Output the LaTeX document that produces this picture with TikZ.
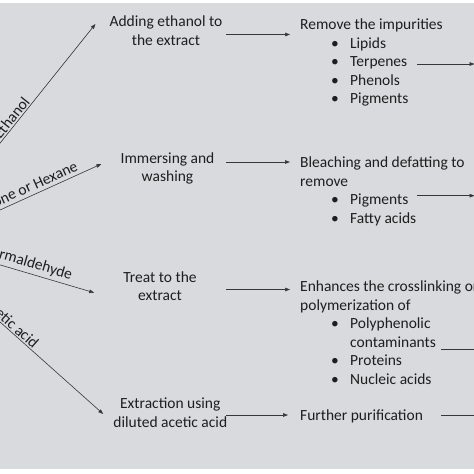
\documentclass[tikz,border=0pt]{standalone}
\usepackage{fontspec}
\setmainfont{Carlito}
\usetikzlibrary{arrows.meta,positioning,calc}

\definecolor{panelgray}{RGB}{216,218,221}
\definecolor{inkgray}{RGB}{30,30,30}
\definecolor{linegray}{RGB}{55,55,55}
\newcommand{\bitem}[1]{\hspace*{31pt}\makebox[19pt][l]{\textbullet}#1}

\begin{document}
\begin{tikzpicture}[
    x=1pt, y=-1pt,
    font=\fontsize{15.5pt}{18.5pt}\selectfont,
    stage/.style={align=center, inner sep=0pt, text=inkgray, anchor=base},
    result/.style={align=left, inner sep=0pt, text=inkgray, anchor=base west},
    reagent/.style={inner sep=1.5pt, text=inkgray, anchor=south east},
    arrow/.style={-{Triangle[length=5pt,width=3.6pt]}, line width=0.6pt, draw=linegray},
]
\useasboundingbox (0,0) rectangle (474,474);
\clip (0,0) rectangle (474,474);
\fill[white] (0,0) rectangle (474,474);
\fill[panelgray] (0,3) rectangle (474,469);

% treatments (anchored at the baseline of the last line)
\node[stage] (add)   at (166,45)    {Adding ethanol to\\the extract};
\node[stage] (imm)   at (167.5,181.7) {Immersing and\\washing};
\node[stage] (treat) at (160,300.7) {Treat to the\\extract};
\node[stage] (extr)  at (170.3,427.3) {Extraction using\\diluted acetic acid};

% outcomes
\node[result] (remove) at (300,103.5) {Remove the impurities\\\bitem{Lipids}\\\bitem{Terpenes}\\\bitem{Phenols}\\\bitem{Pigments}};
\node[result] (bleach) at (300,223) {Bleaching and defatting to\\remove\\\bitem{Pigments}\\\bitem{Fatty acids}};
\node[result] (enh) at (300,384) {Enhances the crosslinking or\\polymerization of\\\bitem{Polyphenolic}\\\hspace*{50pt}contaminants\\\bitem{Proteins}\\\bitem{Nucleic acids}};
\node[result] (further) at (300,420) {Further purification};

% rows and free ends
\coordinate (rowA) at (0,34.5);
\coordinate (rowB) at (0,162);
\coordinate (rowC) at (0,289.5);
\coordinate (rowD) at (0,415);
\coordinate (srcEth)  at (-30,180.7);
\coordinate (srcHex)  at (-30,223.6);
\coordinate (srcForm) at (-30,256.0);
\coordinate (srcAce)  at (-30,295.2);
\coordinate (outA) at (474.5,64);
\coordinate (outB) at (474.5,195.7);
\coordinate (outC) at (490,349);
\coordinate (outD) at (490,415);

% reagents
\draw[arrow] (srcEth)  -- ([xshift=-14pt]add.west |- 0,24);
\draw[arrow] (srcHex)  -- ([xshift=-19pt]imm.west |- 0,164);
\draw[arrow] (srcForm) -- ([xshift=-29pt]treat.west |- 0,292.7);
\draw[arrow] (srcAce)  -- ([xshift=-10pt]extr.west |- 0,414);
\node[reagent, rotate=51.3]  (eth)  at (33,102.1)  {Ethanol};
\node[reagent, rotate=24.3]  (hex)  at (81,171)    {Acetone or Hexane};
\node[reagent, rotate=-16.4] (form) at (71,284)    {Formaldehyde};
\node[reagent, rotate=-41.8] (ace)  at (33.1,351.6) {Acetic acid};

% treatment -> outcome
\draw[arrow] ([xshift=-74pt]remove.west |- rowA)  -- ([xshift=-10pt]remove.west |- rowA);
\draw[arrow] ([xshift=-74pt]bleach.west |- rowB)  -- ([xshift=-10pt]bleach.west |- rowB);
\draw[arrow] ([xshift=-74pt]enh.west |- rowC)     -- ([xshift=-10pt]enh.west |- rowC);
\draw[arrow] ([xshift=-74pt]further.west |- rowD) -- ([xshift=-12pt]further.west |- rowD);

% onwards
\draw[arrow] ([xshift=117pt]remove.west |- outA) -- (outA);
\draw[arrow] ([xshift=117pt]bleach.west |- outB) -- (outB);
\draw[arrow] ([xshift=141pt]enh.west |- outC)    -- (outC);
\draw[arrow] ([xshift=141pt]further.west |- outD) -- (outD);
\end{tikzpicture}
\end{document}
